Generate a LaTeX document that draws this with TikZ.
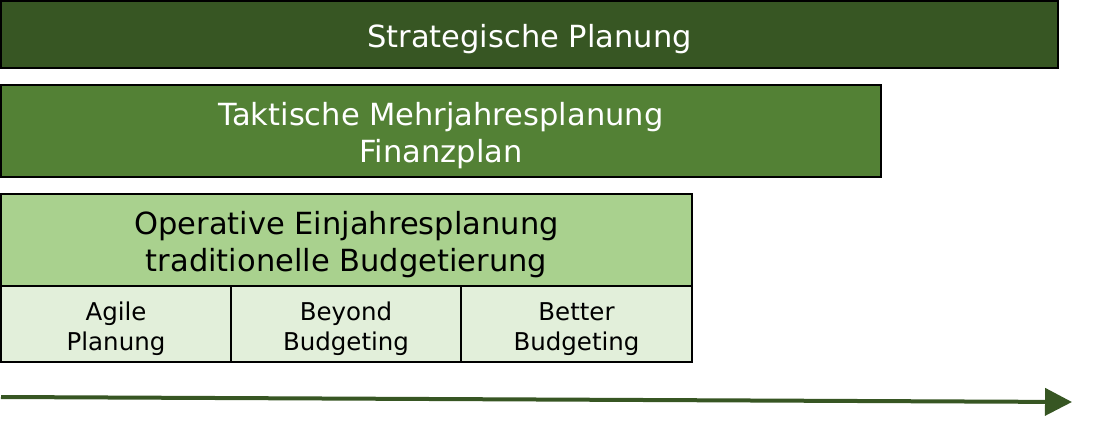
\documentclass[tikz,border=0pt]{standalone}
\usepackage{fontspec}
\setmainfont{DejaVu Sans}
\usetikzlibrary{positioning,arrows.meta}
\definecolor{strategie}{HTML}{375623}
\definecolor{taktik}{HTML}{538135}
\definecolor{operativ}{HTML}{A9D18E}
\definecolor{methode}{HTML}{E2EFDA}
\begin{document}
\begin{tikzpicture}[
    x=1pt, y=-1pt,
    ebene/.style={rectangle, draw=black, line width=2pt, outer sep=0pt, inner sep=0pt, align=center, font=\fontsize{30.5}{37}\selectfont, text height=63pt, text depth=0pt},
    methodbox/.style={ebene, fill=methode, text=black, minimum width=230pt, minimum height=76pt, font=\fontsize{24.5}{30}\selectfont, text height=52pt, text depth=0pt},
    zeitpfeil/.style={-{Triangle[length=27pt, width=27pt]}, line width=4pt, strategie}
]
    \useasboundingbox (0,0) rectangle (1100,430);

    \node[ebene, fill=strategie, text=white, minimum width=1057pt, minimum height=67pt, text height=27pt, anchor=north west] (strat) at (1,1) {Strategische Planung};
    \node[ebene, fill=taktik, text=white, minimum width=880pt, minimum height=92pt, below=17pt of strat.south west, anchor=north west] (takt) {Taktische Mehrjahresplanung\\Finanzplan};
    \node[ebene, fill=operativ, text=black, minimum width=691pt, minimum height=92pt, below=17pt of takt.south west, anchor=north west] (oper) {Operative Einjahresplanung\\traditionelle Budgetierung};

    \node[methodbox, below=0pt of oper.south west, anchor=north west] (agile) {Agile\\Planung};
    \node[methodbox, right=0pt of agile] (beyond) {Beyond\\Budgeting};
    \node[methodbox, minimum width=231pt, right=0pt of beyond] (better) {Better\\Budgeting};

    \coordinate (start) at (1,397);
    \coordinate (ende) at (1072,402);
    \draw[zeitpfeil] (start) -- (ende);
\end{tikzpicture}
\end{document}
